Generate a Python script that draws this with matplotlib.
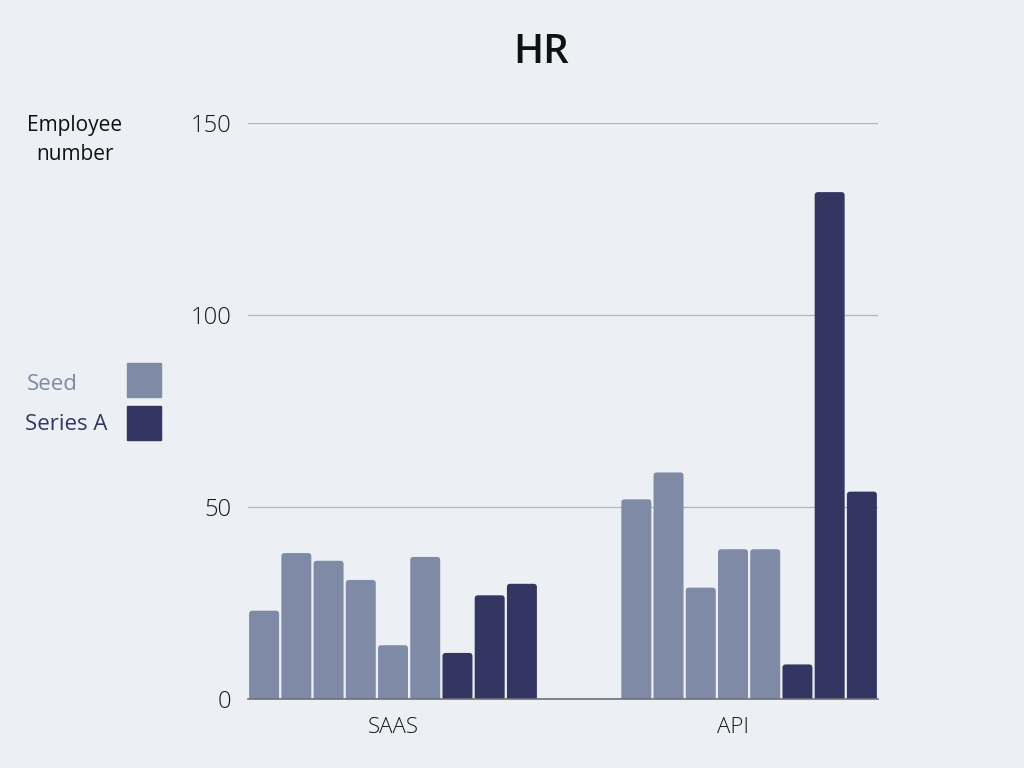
import matplotlib.pyplot as plt
import numpy as np
from matplotlib.patches import Rectangle, FancyBboxPatch

# Data
groups = ['SAAS', 'API']
saas_seed = [23, 38, 36, 31, 14, 37]
saas_series_a = [12, 27, 30]
api_seed = [np.nan, 52, 59, 29, 39, 39]   # first slot empty in the reference
api_series_a = [9, 132, 54]

seed_color = '#7f8aa6'
series_a_color = '#323660'
bg = '#eceff4'

plt.rcParams['font.family'] = ['Open Sans', 'DejaVu Sans']

fig = plt.figure(figsize=(10.24, 7.68), dpi=100, facecolor=bg)
ax = fig.add_axes([248 / 1024, 1 - 699 / 768, 630 / 1024, 576 / 768])
ax.set_facecolor(bg)

group_gap = 1.55  # empty slots between the two groups
width = 0.93
tick_pos = []
start = 0.0
bars = []
for seed, series_a in [(saas_seed, saas_series_a), (api_seed, api_series_a)]:
    n_seed = len(seed)
    n_total = n_seed + len(series_a)
    x_seed = start + np.arange(n_seed) + 0.5
    x_a = start + n_seed + np.arange(len(series_a)) + 0.5
    bars += list(ax.bar(x_seed, seed, width=width, color=seed_color, zorder=3))
    bars += list(ax.bar(x_a, series_a, width=width, color=series_a_color, zorder=3))
    tick_pos.append(start + n_total / 2)
    start += n_total + group_gap

ax.set_xlim(0, start - group_gap)
ax.set_ylim(0, 150)

# swap the plain bars for ones with slightly rounded tops
aspect = (150 / 576) / ((start - group_gap) / 630)
for rect in bars:
    h = rect.get_height()
    rect.set_visible(False)
    if np.isnan(h):
        continue
    ax.add_patch(FancyBboxPatch((rect.get_x(), -2), rect.get_width(), h + 2,
                                boxstyle='round,pad=0,rounding_size=0.1',
                                mutation_aspect=aspect, linewidth=0,
                                facecolor=rect.get_facecolor(), zorder=3))

ax.set_yticks([0, 50, 100, 150])
ax.set_xticks(tick_pos)
ax.set_xticklabels(groups)
ax.tick_params(axis='y', length=0, pad=12, labelsize=17, labelcolor='#1a1a1a')
ax.tick_params(axis='x', length=0, pad=13, labelsize=16, labelcolor='#1a1a1a')
for lab in ax.get_yticklabels() + ax.get_xticklabels():
    lab.set_fontweight('light')

ax.grid(axis='y', color='#b3b6bd', linewidth=0.9, zorder=0)
ax.set_axisbelow(True)
for side in ['top', 'right', 'left']:
    ax.spines[side].set_visible(False)
ax.spines['bottom'].set_color('#6e717b')
ax.spines['bottom'].set_linewidth(1.2)
ax.spines['bottom'].set_zorder(4)

# title and y label
fig.text(541 / 1024, 1 - 53 / 768, 'HR', ha='center', va='center',
         fontsize=29, fontweight='semibold', color='#111111')
fig.text(75 / 1024, 1 - 140 / 768, 'Employee\nnumber', ha='center', va='center',
         fontsize=15, color='#111111', linespacing=1.55)

# legend on the left
fig.text(27 / 1024, 1 - 385 / 768, 'Seed', ha='left', va='center',
         fontsize=16, fontweight='medium', color=seed_color)
fig.text(25 / 1024, 1 - 425 / 768, 'Series A', ha='left', va='center',
         fontsize=16, fontweight='medium', color=series_a_color)
fig.add_artist(Rectangle((127 / 1024, 1 - 397 / 768), 34 / 1024, 34 / 768,
                         transform=fig.transFigure, color=seed_color))
fig.add_artist(Rectangle((127 / 1024, 1 - 440 / 768), 34 / 1024, 34 / 768,
                         transform=fig.transFigure, color=series_a_color))

plt.savefig('out.png', dpi=100, facecolor=bg)
